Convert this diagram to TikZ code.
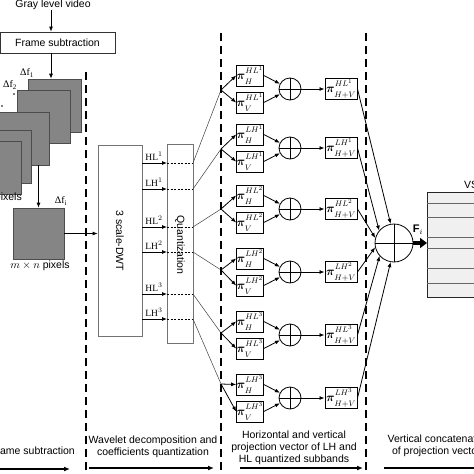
\documentclass[tikz,border=0pt]{standalone}
\usepackage{amsmath,bm}
\usepackage{fontspec}
\setmainfont{Liberation Sans}
\newfontfamily\serif{Liberation Serif}
\usetikzlibrary{arrows.meta,calc}
\newcommand\pbx[2]{$\bm{\pi}^{\raisebox{1.8pt}{$\scriptstyle #2$}}_{\raisebox{-1.8pt}{$\scriptstyle #1$}}$}
\begin{document}
\begin{tikzpicture}[x=1pt,y=-1pt,
  lab/.style={font=\fontsize{10.5}{12}\selectfont, align=center, inner sep=0pt},
  arr/.style={-{Latex[length=5pt,width=4pt]}, line width=0.8pt},
  bigarr/.style={-{Latex[length=6pt,width=5pt]}, line width=1.4pt},
  sep/.style={line width=1.8pt, dash pattern=on 8pt off 5pt},
  frm/.style={fill=black!48, draw=black!70, line width=0.6pt, minimum size=53pt, inner sep=0pt},
  pbox/.style={draw, line width=1pt, minimum width=26pt, minimum height=21pt, inner sep=0pt, font=\fontsize{11.5}{12}\selectfont},
  sumc/.style={circle, draw, line width=0.8pt, minimum size=22pt, inner sep=0pt,
    path picture={\draw[line width=0.5pt] (path picture bounding box.north) -- (path picture bounding box.south)
      (path picture bounding box.west) -- (path picture bounding box.east);}},
  graybox/.style={draw=black!55, line width=0.8pt, inner sep=0pt},
  sub/.style={font=\serif\fontsize{9.5}{10}\selectfont, inner sep=0pt},
  thin/.style={line width=0.5pt, black!75},
]
\useasboundingbox (0,0) rectangle (474,474);
\clip (0,0) rectangle (474,474);
\fill[white] (0,0) rectangle (474,474);

% --- frame subtraction stage ---
\node[lab] (video) at (53,5) {Gray level video};
\node[draw=black!80, line width=0.8pt, minimum width=115pt, minimum height=21pt, inner sep=0pt, lab] (fsbox) at (57.5,42.5) {Frame subtraction};
\draw[arr] (video.south -| 51,0) -- (fsbox.north -| 51,0);

\node[frm] (f1) at (54.5,105.5) {};
\node[frm] (f2) at (43.5,116.5) {};
\node[frm] (f3) at (22.5,138.5) {};
\node[frm] (f4) at (4.5,156.5) {};
\node[frm] (f5) at (-5.5,167.5) {};
\draw[arr] (fsbox.south -| 51,0) -- (f1.north -| 51,0);
\node[sub, font=\serif\fontsize{10}{11}\selectfont] (d1) at (27,73) {Δf\textsubscript{1}};
\node[sub, font=\serif\fontsize{10}{11}\selectfont] (d2) at (10,85) {Δf\textsubscript{2}};
\fill (14,94) circle (0.8);
\fill (2,106) circle (0.8);
\node[lab, anchor=east] (pix1) at (22,198) {pixels};

\node[frm, minimum size=51pt] (dfi) at (38.5,233.5) {};
\node[sub, font=\serif\fontsize{10}{11}\selectfont] (dil) at (61,201) {Δf\textsubscript{i}};
\node[lab] (mn) at (40,266) {$m\times n$ pixels};
\draw[arr] (dfi.north |- f3.south) -- (dfi.north);

% --- DWT and quantization ---
\node[graybox, minimum width=44pt, minimum height=191pt] (dwt) at (120,240.5) {};
\node[lab, rotate=-90] at (120,241) {3 scale-DWT};
\node[graybox, minimum width=26pt, minimum height=199pt] (quant) at (180,243.5) {};
\node[lab, rotate=-90] at (180,245) {Quantization};
\draw[arr] (dfi.east) -- (dfi.east -| dwt.west);

\foreach \n/\y/\t in {1/163/HL$^1$, 2/189/LH$^1$, 3/227/HL$^2$, 4/252/LH$^2$, 5/294/HL$^3$, 6/319/LH$^3$}{
  \coordinate (qa\n) at (142,\y);
  \coordinate (qb\n) at (167,\y);
  \coordinate (qc\n) at (193,\y);
  \draw[arr] (qa\n) -- (qb\n);
  \draw[line width=0.6pt, dash pattern=on 2pt off 1.5pt] (qb\n) -- (qc\n);
  \node[sub] at (154,{\y-7}) {\t};
}

% --- projection stage ---
\foreach \i/\yc/\yb/\s in {1/89/90/HL^1, 2/148/149/LH^1, 3/209/209/HL^2, 4/272/270/LH^2, 5/335/333/HL^3, 6/398/384/LH^3}{
  \node[pbox] (ph\i) at (250,{\yc-13.5}) {\pbx{H}{\s}};
  \node[pbox] (pv\i) at (250,{\yc+13.5}) {\pbx{V}{\s}};
  \node[sumc] (s\i) at (290,\yc) {};
  \node[pbox, minimum width=32pt] (hv\i) at (341,\yc) {\pbx{H+V}{\s}};
  \coordinate (b\i) at (221,\yb);
  \draw[thin] (qc\i) -- (b\i);
  \draw[arr] (b\i) -- (ph\i.west);
  \draw[arr] (b\i) -- (pv\i.west);
  \draw[arr] (ph\i.east) -- (s\i);
  \draw[arr] (pv\i.east) -- (s\i);
  \draw[arr] (s\i) -- (hv\i);
}

% --- concatenation ---
\node[sumc, minimum size=38pt] (big) at (394,243) {};
\draw[arr] (hv1.east) -- (big.100);
\draw[arr] (hv2.east) -- (big.140);
\draw[arr] (hv3.east) -- (big.165);
\draw[arr] (hv4.east) -- (big.193);
\draw[arr] (hv5.east) -- (big.222);
\draw[arr] (hv6.east) -- (big.260);

\node[draw=black!85, fill=black!6, line width=0.8pt, minimum width=60pt, minimum height=105pt, inner sep=0pt, anchor=north west] (vs) at (427,192) {};
\foreach \y in {203,217,237,248,268,283}{\draw[black!60, line width=0.7pt] (427,\y) -- (474,\y);}
\node[lab, anchor=west] (vsl) at (464,185) {VS};
\draw[line width=3.5pt, -{Triangle[length=7pt,width=10pt]}] (big.east) -- (big.east -| vs.west);
\node[inner sep=0pt, font=\fontsize{11}{12}\selectfont] (fi) at (418,230) {$\mathbf{F}_i$};

% --- separators ---
\draw[sep] (86,72) -- (86,474);
\draw[sep] (221,33) -- (221,474);
\draw[sep] (366,33) -- (366,474);

% --- bottom captions ---
\node[lab, anchor=east] (c1) at (75,451) {Frame subtraction};
\node[lab] (c2) at (153,447) {Wavelet decomposition and\\coefficients quantization};
\node[lab] (c3) at (294,448) {Horizontal and vertical\\projection vector of LH and\\HL quantized subbands};
\node[lab] (c4) at (439,446) {Vertical concatenation\\of projection vectors};
\coordinate (a1s) at (-5,469); \coordinate (a1e) at (70,469);
\coordinate (a2s) at (89,468); \coordinate (a2e) at (214,468);
\coordinate (a3s) at (240,468); \coordinate (a3e) at (363,468);
\coordinate (a4s) at (384,468); \coordinate (a4e) at (480,468);
\draw[bigarr] (a1s) -- (a1e);
\draw[bigarr] (a2s) -- (a2e);
\draw[bigarr] (a3s) -- (a3e);
\draw[line width=1.4pt] (a4s) -- (a4e);
\end{tikzpicture}
\end{document}
